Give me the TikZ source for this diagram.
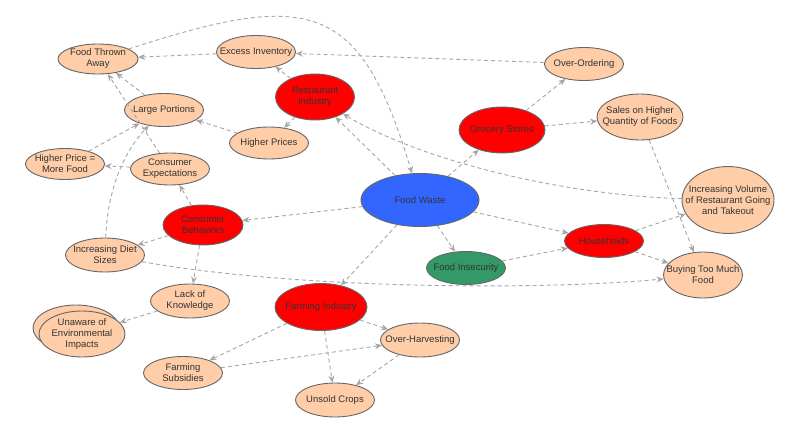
\documentclass[tikz,border=0pt]{standalone}
\usepackage{fontspec}
\setmainfont{Liberation Sans}
\usetikzlibrary{shapes.geometric,arrows.meta}
\definecolor{peach}{HTML}{FFCDA8}
\definecolor{sectorred}{HTML}{FF0000}
\definecolor{wasteblue}{HTML}{3366FF}
\definecolor{needgreen}{HTML}{339966}
\definecolor{rimgray}{HTML}{666666}
\definecolor{linkgray}{HTML}{A6A6A6}
\definecolor{inkgray}{HTML}{333333}
\begin{document}
\begin{tikzpicture}[x=1pt,y=-1pt,
    idea/.style={ellipse,draw=rimgray,line width=0.9pt,fill=peach,text=inkgray,
        inner xsep=-16pt,inner ysep=-4pt,minimum width=79pt,minimum height=33pt,
        align=center,font=\fontsize{9.5}{11}\selectfont},
    sector/.style={idea,fill=sectorred},
    link/.style={draw=linkgray,line width=0.9pt,dash pattern=on 4pt off 3pt,
        -{Stealth[length=7pt,width=6pt]}}]
    \useasboundingbox (0,0) rectangle (800,431);

    \node[idea,minimum width=80pt,minimum height=30pt] (thrown) at (98,59) {Food Thrown\\Away};
    \node[idea] (inventory) at (256,52) {Excess Inventory};
    \node[sector,minimum height=46pt] (restaurant) at (315,97) {Restaurant\\Industry};
    \node[idea] (portions) at (164,110) {Large Portions};
    \node[idea,minimum height=32pt] (prices) at (269,143) {Higher Prices};
    \node[idea,minimum height=31pt] (morefood) at (65,164) {Higher Price =\\More Food};
    \node[idea,minimum height=32pt] (expect) at (170,169) {Consumer\\Expectations};
    \node[idea,fill=wasteblue,minimum width=118pt,minimum height=53pt] (waste) at (420,200) {Food Waste};
    \node[sector,minimum width=86pt,minimum height=46pt] (grocery) at (502,130) {Grocery Stores};
    \node[idea] (ordering) at (584,64) {Over-Ordering};
    \node[idea,minimum width=86pt,minimum height=46pt] (sales) at (640,117) {Sales on Higher\\Quantity of Foods};
    \node[idea,minimum width=92pt,minimum height=67pt] (volume) at (728,200) {Increasing Volume\\of Restaurant Going\\and Takeout};
    \node[sector,minimum width=80pt,minimum height=40pt] (behav) at (203,225) {Consumer\\Behaviors};
    \node[idea,minimum height=34pt] (dietsize) at (105,255) {Increasing Diet\\Sizes};
    \node[idea,minimum height=34pt] (knowledge) at (190,301) {Lack of\\Knowledge};
    \node[idea,minimum width=86pt,minimum height=46pt] (unawareback) at (76,328) {};
    \node[idea,minimum width=86pt,minimum height=46pt] (unaware) at (82,334) {Unaware of\\Environmental\\Impacts};
    \node[sector,minimum width=92pt,minimum height=47pt] (farming) at (321,307) {Farming Industry};
    \node[idea,minimum height=34pt] (harvest) at (420,340) {Over-Harvesting};
    \node[idea] (subsidies) at (183,373) {Farming\\Subsidies};
    \node[idea,minimum height=34pt] (unsold) at (335,400) {Unsold Crops};
    \node[idea,fill=needgreen] (insecurity) at (466,268) {Food Insecurity};
    \node[sector] (households) at (604,241) {Households};
    \node[idea,minimum height=46pt] (buying) at (703,275) {Buying Too Much\\Food};

    \draw[link] (inventory) -- (thrown);
    \draw[link] (ordering) -- (inventory);
    \draw[link] (restaurant) -- (inventory);
    \draw[link] (restaurant) -- (prices);
    \draw[link] (prices) -- (portions);
    \draw[link] (portions) -- (thrown);
    \draw[link] (expect) -- (thrown);
    \draw[link] (morefood) -- (portions);
    \draw[link] (expect) -- (morefood);
    \draw[link] (dietsize) .. controls (108,180) and (130,145) .. (portions);
    \draw[link] (behav) -- (expect);
    \draw[link] (waste) -- (behav);
    \draw[link] (behav) -- (dietsize);
    \draw[link] (behav) -- (knowledge);
    \draw[link] (knowledge) -- (unaware);
    \draw[link] (dietsize) .. controls (300,290) and (550,290) .. (buying);
    \draw[link] (waste) -- (farming);
    \draw[link] (farming) -- (harvest);
    \draw[link] (farming) -- (subsidies);
    \draw[link] (farming) -- (unsold);
    \draw[link] (subsidies) -- (harvest);
    \draw[link] (harvest) -- (unsold);
    \draw[link] (waste) -- (restaurant);
    \draw[link] (volume) .. controls (560,195) and (420,160) .. (restaurant);
    \draw[link] (waste) -- (grocery);
    \draw[link] (grocery) -- (ordering);
    \draw[link] (grocery) -- (sales);
    \draw[link] (sales) -- (buying);
    \draw[link] (waste) -- (households);
    \draw[link] (waste) -- (insecurity);
    \draw[link] (insecurity) -- (households);
    \draw[link] (households) -- (volume);
    \draw[link] (households) -- (buying);
    \draw[link] (thrown) .. controls (310,-10) and (360,0) .. (waste);
\end{tikzpicture}
\end{document}
